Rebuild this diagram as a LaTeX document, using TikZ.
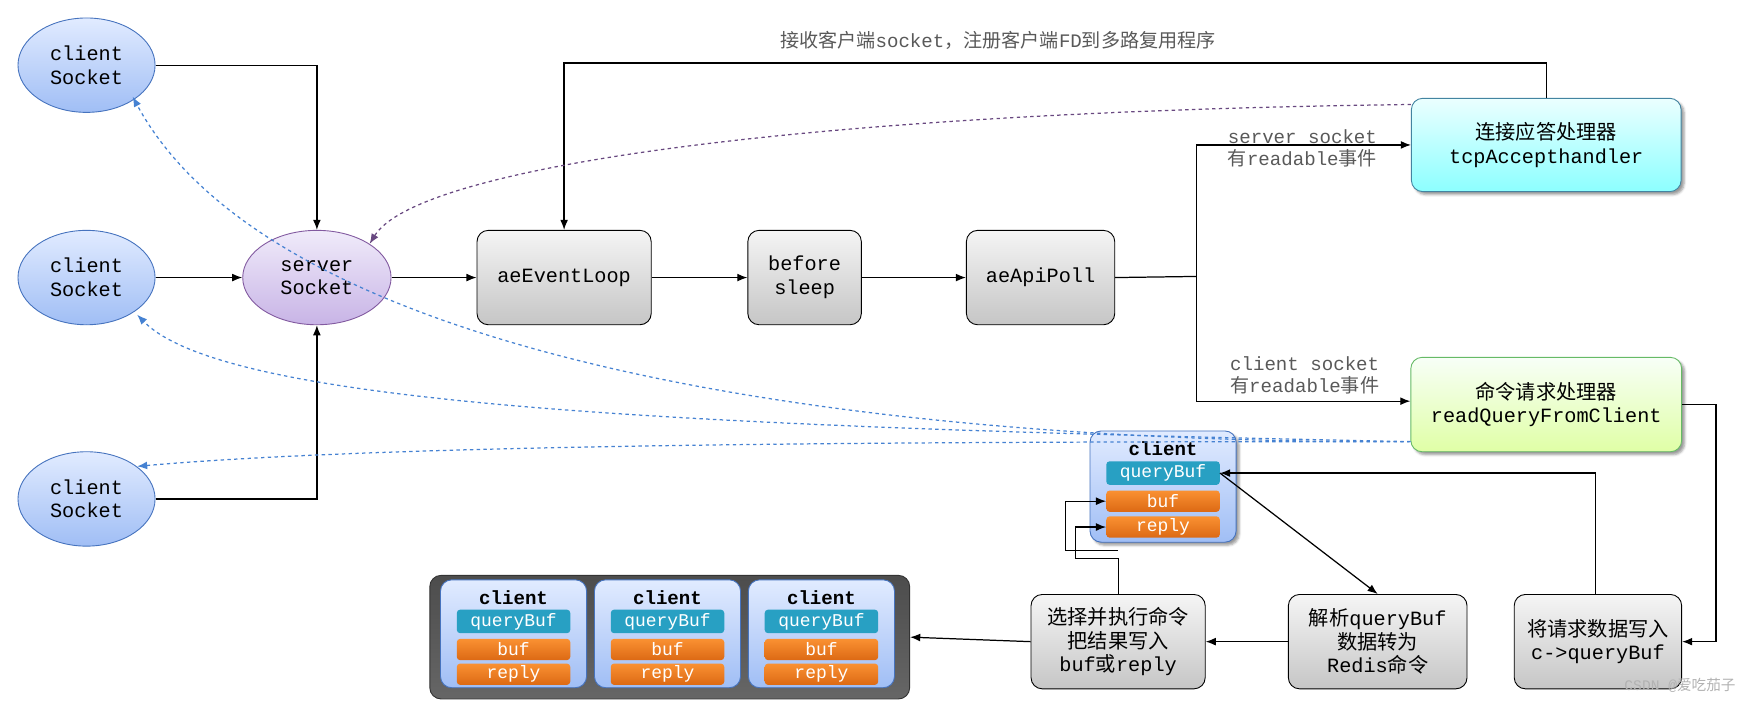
\documentclass[tikz,border=0pt]{standalone}
\usepackage{fontspec}
\setmainfont{Liberation Mono}
\newfontfamily\cjk{Noto Sans CJK SC}
\usetikzlibrary{arrows.meta,shapes.geometric,shadows,shadows.blur}
\definecolor{eTop}{RGB}{225,235,255}
\definecolor{eBot}{RGB}{160,190,245}
\definecolor{eDr}{RGB}{70,115,190}
\definecolor{pTop}{RGB}{240,235,250}
\definecolor{pBot}{RGB}{200,180,230}
\definecolor{pDr}{RGB}{130,90,160}
\definecolor{qCol}{RGB}{40,160,195}
\definecolor{oTop}{RGB}{250,145,50}
\definecolor{oBot}{RGB}{220,105,20}
\definecolor{dBlue}{RGB}{70,130,210}
\begin{document}
\begin{tikzpicture}[x=1pt,y=-1pt,
  every node/.style={font=\fontsize{18}{21}\selectfont, align=center},
  ell/.style={ellipse, draw=eDr, thick, top color=eTop, bottom color=eBot, minimum width=122, minimum height=84, inner sep=0},
  gbox/.style={rounded corners=10, draw=black, thick, top color=gray!8, bottom color=gray!45, inner sep=0},
  ar/.style={-{Latex[length=9,width=7]}, line width=1.1pt},
  dsh/.style={dashed, line width=1.1pt, draw=dBlue, -{Latex[length=9,width=7]}},
  sb/.style={rounded corners=3, inner sep=0, minimum width=101, text=white, font=\fontsize{16}{18}\selectfont},
  qb/.style={sb, fill=qCol, minimum height=21},
  ob/.style={sb, top color=oTop, bottom color=oBot, minimum height=19},
  cl/.style={rounded corners=10, draw=eDr, thick, top color=eTop, bottom color=eBot, inner sep=0},
  lab/.style={text=black!65, font=\fontsize{17}{20}\selectfont, align=left}
]
\useasboundingbox (0,0) rectangle (1568,628);
\node[ell] (c1) at (77,58) {client\\Socket};
\node[ell] (c2) at (77,247) {client\\Socket};
\node[ell] (c3) at (77,444) {client\\Socket};
\node[ell, draw=pDr, top color=pTop, bottom color=pBot, minimum width=132] (ss) at (282,247) {server\\Socket};
\node[gbox, minimum width=155, minimum height=84] (ae) at (502,247) {aeEventLoop};
\node[gbox, minimum width=101, minimum height=84] (bs) at (716,247) {before\\sleep};
\node[gbox, minimum width=132, minimum height=84] (ap) at (926,247) {aeApiPoll};
\node[rounded corners=10, draw=cyan!60!black, thick, top color=cyan!8, bottom color=cyan!45, minimum width=240, minimum height=83, inner sep=0, blur shadow] (tcp) at (1376,129) {{\cjk 连接应答处理器}\\tcpAccepthandler};
\node[rounded corners=10, draw=green!55!black!60, thick, top color=green!3, bottom color=green!35!yellow!35, minimum width=241, minimum height=84, inner sep=0, blur shadow] (rq) at (1376,360) {{\cjk 命令请求处理器}\\readQueryFromClient};
\node[cl, minimum width=130, minimum height=99, blur shadow] (cm) at (1035,433) {};
\node[font=\bfseries\fontsize{17}{20}\selectfont] (cmt) at (1035,399) {client};
\node[qb] (qm) at (1035,421) {queryBuf};
\node[ob] (bm) at (1035,446) {buf};
\node[ob] (rm) at (1035,469) {reply};
\node[gbox, minimum width=155, minimum height=84] (xz) at (995,571) {{\cjk 选择并执行命令}\\{\cjk 把结果写入}\\buf{\cjk 或}reply};
\node[gbox, minimum width=159, minimum height=84] (jx) at (1226,571) {{\cjk 解析}queryBuf\\{\cjk 数据转为}\\Redis{\cjk 命令}};
\node[gbox, minimum width=149, minimum height=84] (jq) at (1422,571) {{\cjk 将请求数据写入}\\c->queryBuf};
\node[rounded corners=10, draw=black!80, thick, top color=gray!60!black, bottom color=gray!80!black, minimum width=427, minimum height=110, inner sep=0] (grp) at (596,567) {};
\foreach \i/\x in {1/457,2/594,3/731}{
  \node[cl, minimum width=130, minimum height=96] (g\i) at (\x,564) {};
  \node[font=\bfseries\fontsize{17}{20}\selectfont] (g\i t) at (\x,532) {client};
  \node[qb] (g\i q) at (\x,553) {queryBuf};
  \node[ob] (g\i b) at (\x,578) {buf};
  \node[ob] (g\i r) at (\x,600) {reply};
}
\node[lab] (top) at (888,36) {{\cjk 接收客户端}socket{\cjk ，注册客户端}FD{\cjk 到多路复用程序}};
\node[lab] (l1) at (1159,132) {server socket\\{\cjk 有}readable{\cjk 事件}};
\node[lab] (l2) at (1161,334) {client socket\\{\cjk 有}readable{\cjk 事件}};
\draw[ar] (c1.east) -| (ss.north);
\draw[ar] (c2.east) -- (ss.west);
\draw[ar] (c3.east) -| (ss.south);
\draw[ar] (ss.east) -- (ae.west);
\draw[ar] (ae.east) -- (bs.west);
\draw[ar] (bs.east) -- (ap.west);
\coordinate (sp) at (1065,246);
\draw[line width=1.1pt] (ap.east) -- (sp);
\draw[ar] (sp) |- (tcp.west |- 0,129);
\draw[ar] (sp) |- (rq.west |- 0,357);
\draw[ar] (tcp.north) |- (502,56) -- (ae.north);
\draw[line width=1.1pt,dashed,draw=pDr!80!black,-{Latex[length=9,width=7]}] (tcp.west |- 0,93) .. controls (700,100) and (370,150) .. (ss.north east);
\draw[dsh] (rq.west |- 0,393) .. controls (800,395) and (250,330) .. (118,86);
\draw[dsh] (rq.west |- 0,393) .. controls (600,380) and (200,360) .. (122,280);
\draw[dsh] (rq.west |- 0,393) .. controls (800,393) and (350,395) .. (122,415);
\draw[ar] (rq.east) -| (1527,571) -- (jq.east);
\draw[ar] (jq.north -| 1420,0) |- (qm.east);
\draw[ar] (qm.east) -- (jx.north);
\draw[ar] (jx.west) -- (xz.west -| xz.east);
\draw[ar] (xz.west) -- (grp.east);
\draw[ar] (xz.north) |- (957,497) |- (rm.west);
\draw[ar] (995,490) -| (948,446) -- (bm.west);
\node[text=gray!60, font=\fontsize{13}{15}\selectfont] (csdn) at (1495,610) {CSDN @{\cjk 爱吃茄子}};
\end{tikzpicture}
\end{document}
